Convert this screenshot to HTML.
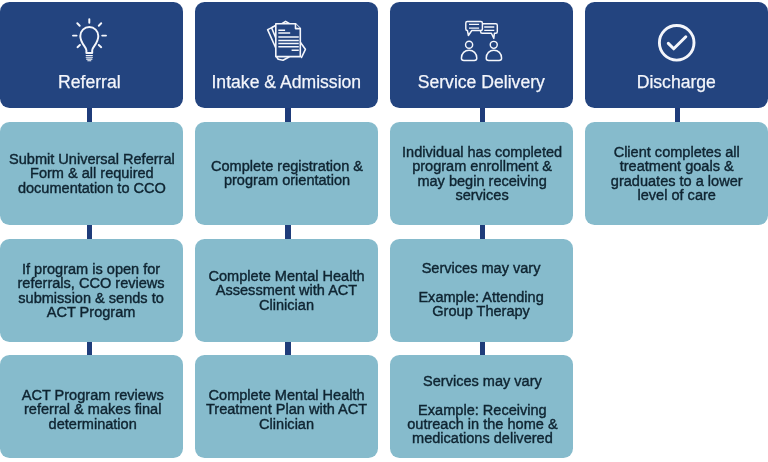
<!DOCTYPE html>
<html><head><meta charset="utf-8">
<style>
html,body{margin:0;padding:0;background:#fff;width:768px;height:462px;overflow:hidden;position:relative;font-family:"Liberation Sans",sans-serif;}
.h{position:absolute;top:2.4px;height:105.2px;width:182.6px;background:#23447f;border-radius:9.5px;}
.h .t{position:absolute;left:0;right:0;top:69.5px;text-align:center;color:#f4f6fb;font-size:17.6px;line-height:20px;white-space:nowrap;-webkit-text-stroke:0.25px #f4f6fb;will-change:transform;}
.h svg{position:absolute;left:0;top:0;}
.b{position:absolute;height:103px;width:182.6px;background:#86bbcc;border-radius:9.5px;display:flex;align-items:center;justify-content:center;}
.b .t{text-align:center;color:#0f2431;font-size:14.55px;line-height:14.35px;white-space:nowrap;-webkit-text-stroke:0.4px #0f2431;will-change:transform;}
.c{position:absolute;width:5.5px;background:#1f3c7a;}
.c1{left:86.7px}.c2{left:285px}.c3{left:479.6px}.c4{left:674.6px}
.x1{left:0.4px}.x2{left:195.4px}.x3{left:390.2px}.x4{left:585.1px}
.r1{top:121.8px}.r2{top:238.5px}.r3{top:355.3px}
.r3 .t{transform:translateY(2.6px)}
</style></head><body>
<!-- connectors -->
<div class="c c1" style="top:106px;height:18px"></div>
<div class="c c1" style="top:223px;height:17px"></div>
<div class="c c1" style="top:340px;height:17px"></div>
<div class="c c2" style="top:106px;height:18px"></div>
<div class="c c2" style="top:223px;height:17px"></div>
<div class="c c2" style="top:340px;height:17px"></div>
<div class="c c3" style="top:106px;height:18px"></div>
<div class="c c3" style="top:223px;height:17px"></div>
<div class="c c3" style="top:340px;height:17px"></div>
<div class="c c4" style="top:106px;height:18px"></div>

<!-- headers -->
<div class="h x1">
<div class="t" style="left:-4px">Referral</div></div>
<div class="h x2">
<div class="t">Intake &amp; Admission</div></div>
<div class="h x3">
<div class="t">Service Delivery</div></div>
<div class="h x4">
<div class="t">Discharge</div></div>


<svg style="position:absolute;left:0;top:0" width="768" height="462" viewBox="0 0 768 462" fill="none" stroke="#f4f6fb" stroke-linecap="round" stroke-linejoin="round">
<!-- bulb -->
<g stroke-width="1.95">
<path d="M89.3,19.1V22.7M77.3,23.3L79.7,25.7M101.2,23.3L98.8,25.7M73,35.6H76.6M102.2,35.6H106M77.5,47.2L79.9,45M98.8,45L101.2,47.2"/>
<path d="M86.4,53V50.3C86.4,46.8 80.3,43.5 80.3,36A9,9 0 1 1 98.3,36C98.3,43.5 92.2,46.8 92.2,50.3V53Z"/>
</g>
<path stroke-width="1.1" d="M86.2,55.5H92.4M86.2,57.3H92.4M86.6,59.1H92M87.8,60.8H90.8"/>
<!-- documents -->
<g stroke-width="1.6" fill="#23447f">
<path d="M277,25.2L267.6,29.6L276,48.5"/>
<path d="M277,24.8L271.6,27.8L276,38.5"/>
<path d="M281.5,24L285.6,21.4L290,24"/>
<path d="M300.3,42.2L305.4,49.3L301.5,57.5"/>
<path d="M276,56L278.2,59.3L283,60.3L289,57"/>
<path d="M275.8,23.8H295.5L300.3,28.6V56.6H275.8Z"/>
<path d="M295.5,23.8V28.6H300.3"/>
</g>
<path stroke-width="1.5" stroke-linecap="butt" d="M278.3,30.2H285.1M278.3,33H290.2M278.3,37H298.8M278.3,40.4H298.8M278.3,43.6H298.8M278.3,46.8H298.8M291.6,50.3H298.8"/>
<!-- chat -->
<g stroke-width="1.45" fill="#23447f">
<path d="M482.4,23.7H495.8Q497.3,23.7 497.3,25.2V31.8Q497.3,33.3 495.8,33.3H494.4L493.8,38.4L491.4,33.3H482.1Q480.6,33.3 480.6,31.8V30.5"/>
<path d="M467.3,21.5H480.9Q482.4,21.5 482.4,23V29Q482.4,30.5 480.9,30.5H471.8L468.4,35.5L467.4,30.5Q465.8,30.5 465.8,29V23Q465.8,21.5 467.3,21.5Z"/>
<circle cx="469.1" cy="44.7" r="3.55"/>
<circle cx="493.75" cy="44.85" r="3.5"/>
<path d="M461.4,58.2C461.4,53.3 464.8,50.2 469.1,50.2C473.4,50.2 476.8,53.3 476.8,58.2C476.8,59.8 476,60.4 474.3,60.4H463.9C462.2,60.4 461.4,59.8 461.4,58.2Z"/>
<path d="M486.2,58.2C486.2,53.3 489.6,50.2 493.9,50.2C498.2,50.2 501.6,53.3 501.6,58.2C501.6,59.8 500.8,60.4 499.1,60.4H488.7C487,60.4 486.2,59.8 486.2,58.2Z"/>
</g>
<path stroke-width="1.3" stroke-linecap="butt" d="M469,24.4H479.1M469,28.1H479.1M484.2,27H494.3M484.2,30.4H494.3"/>
<!-- check -->
<circle cx="676.7" cy="42.8" r="17.3" stroke-width="2.9"/>
<path stroke-width="3" d="M668.3,43.4L673.7,48.8L685.8,36.8"/>
</svg>

<!-- row 1 -->
<div class="b x1 r1"><div class="t">Submit Universal Referral<br>Form &amp; all required<br>documentation to CCO</div></div>
<div class="b x2 r1"><div class="t">Complete registration &amp;<br>program orientation</div></div>
<div class="b x3 r1"><div class="t" style="transform:translateX(1px)">Individual has completed<br>program enrollment &amp;<br>may begin receiving<br>services</div></div>
<div class="b x4 r1"><div class="t" style="transform:translateX(0.8px)">Client completes all<br>treatment goals &amp;<br>graduates to a lower<br>level of care</div></div>
<!-- row 2 -->
<div class="b x1 r2"><div class="t" style="transform:translate(-0.5px,1px)">If program is open for<br>referrals, CCO reviews<br>submission &amp; sends to<br>ACT Program</div></div>
<div class="b x2 r2"><div class="t" style="transform:translate(-0.5px,1px)">Complete Mental Health<br>Assessment with ACT<br>Clinician</div></div>
<div class="b x3 r2"><div class="t" style="transform:translateX(-0.6px)">Services may vary<br><br>Example: Attending<br>Group Therapy</div></div>
<!-- row 3 -->
<div class="b x1 r3"><div class="t" style="transform:translate(0.7px,2.6px)">ACT Program reviews<br>referral &amp; makes final<br>determination</div></div>
<div class="b x2 r3"><div class="t">Complete Mental Health<br>Treatment Plan with ACT<br>Clinician</div></div>
<div class="b x3 r3"><div class="t" style="transform:translate(1.2px,2.6px)">Services may vary<br><br>Example: Receiving<br>outreach in the home &amp;<br>medications delivered</div></div>
</body></html>
